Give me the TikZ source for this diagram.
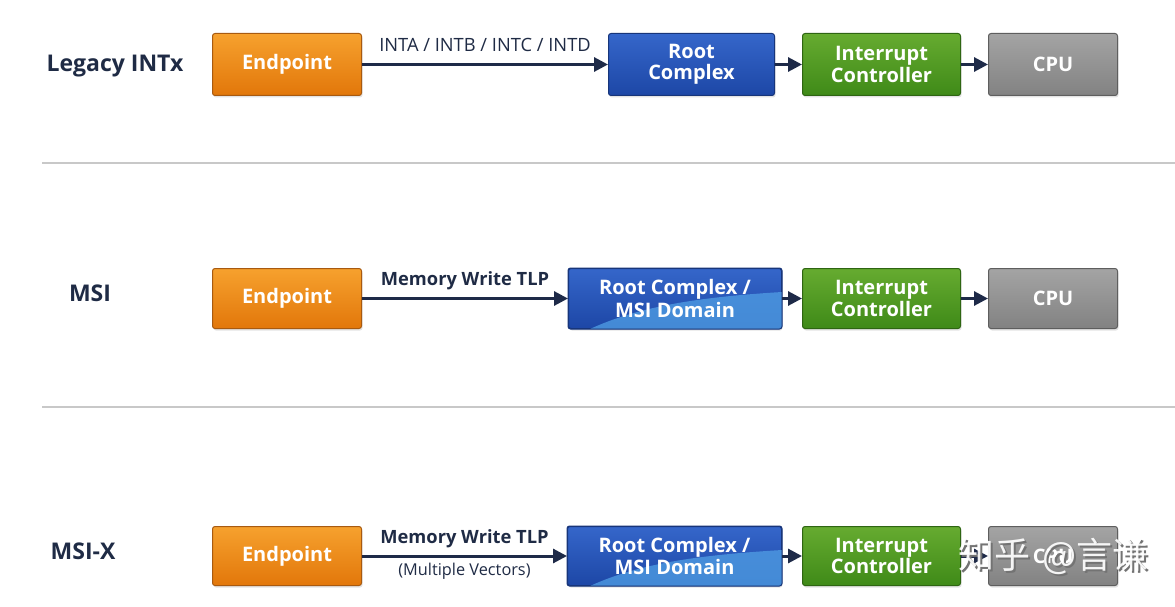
\documentclass[tikz,border=0pt]{standalone}
\usepackage{fontspec}
\setmainfont{Open Sans}
\newfontfamily\cjk{Noto Sans CJK SC}
\usetikzlibrary{arrows.meta,shadows}
\definecolor{navy}{HTML}{1E2A48}
\definecolor{labc}{HTML}{1F2B45}
\definecolor{sepc}{HTML}{C8C8C8}
\definecolor{orT}{HTML}{F6A12E}
\definecolor{orB}{HTML}{E2770A}
\definecolor{orD}{HTML}{A85A10}
\definecolor{blT}{HTML}{3566CA}
\definecolor{blB}{HTML}{1D47A6}
\definecolor{blD}{HTML}{17357A}
\definecolor{blL}{HTML}{4E9BE2}
\definecolor{grT}{HTML}{66AB30}
\definecolor{grB}{HTML}{3F8A18}
\definecolor{grD}{HTML}{2E6512}
\definecolor{gyT}{HTML}{A4A4A4}
\definecolor{gyB}{HTML}{828282}
\definecolor{gyD}{HTML}{5E5E5E}
\begin{document}
\begin{tikzpicture}[x=1pt,y=-1pt,
  box/.style={rectangle, rounded corners=2.5pt, anchor=north west, inner sep=0pt,
    text=white, align=center, line width=1pt,
    font=\bfseries\fontsize{20}{21.5}\selectfont,
    drop shadow={shadow xshift=1pt, shadow yshift=-2pt, opacity=0.22}},
  epbox/.style={box, draw=orD, top color=orT, bottom color=orB},
  rcbox/.style={box, draw=blD, top color=blT, bottom color=blB},
  icbox/.style={box, draw=grD, top color=grT, bottom color=grB},
  cpubox/.style={box, draw=gyD, top color=gyT, bottom color=gyB},
  arr/.style={draw=navy, line width=3pt, -{Triangle[length=14pt,width=14pt]}},
  rowlab/.style={text=labc, font=\bfseries\fontsize{23}{26}\selectfont, anchor=center},
  arrlab/.style={text=labc, anchor=south, inner sep=0pt},
  sep/.style={draw=sepc, line width=1.3pt}
]
\useasboundingbox[fill=white] (0,0) rectangle (1175,607);

% separators
\draw[sep] (42,163) -- (1175,163);
\draw[sep] (42,407) -- (1175,407);

% ---------- Row 1: Legacy INTx ----------
\node[rowlab] (l1) at (115,66) {Legacy INTx};
\node[epbox, minimum width=149pt, minimum height=62pt] (ep1) at (212,33) {Endpoint};
\node[rcbox, minimum width=166pt, minimum height=62pt] (rc1) at (608,33) {Root\\Complex};
\node[icbox, minimum width=158pt, minimum height=62pt] (ic1) at (802,33) {Interrupt\\Controller};
\node[cpubox, minimum width=129pt, minimum height=62pt] (cpu1) at (988,33) {CPU};
\draw[arr] (ep1) -- node[arrlab, above=11pt, font=\fontsize{18.3}{20}\selectfont] {INTA / INTB / INTC / INTD} (rc1);
\draw[arr] (rc1) -- (ic1);
\draw[arr] (ic1) -- (cpu1);

% ---------- Row 2: MSI ----------
\node[rowlab] (l2) at (90,293) {MSI};
\node[epbox, minimum width=149pt, minimum height=60pt] (ep2) at (212,268) {Endpoint};
\node[rcbox, minimum width=213pt, minimum height=60pt] (rc2) at (568,268) {};
\begin{scope}
  \clip[rounded corners=2.5pt] (rc2.north west) rectangle (rc2.south east);
  \fill[blL, opacity=0.8] (590,329) .. controls (640,306) and (700,297) .. (782,292) -- (782,329) -- cycle;
\end{scope}
\draw[blD, line width=1pt, rounded corners=2.5pt] (rc2.north west) rectangle (rc2.south east);
\node[text=white, align=center, font=\bfseries\fontsize{20}{22.5}\selectfont] (rc2t) at (rc2.center) {Root Complex /\\MSI Domain};
\node[icbox, minimum width=158pt, minimum height=60pt] (ic2) at (802,268) {Interrupt\\Controller};
\node[cpubox, minimum width=129pt, minimum height=60pt] (cpu2) at (988,268) {CPU};
\draw[arr] (ep2) -- node[arrlab, above=7pt, font=\bfseries\fontsize{18.3}{20}\selectfont] {Memory Write TLP} (rc2);
\draw[arr] (rc2) -- (ic2);
\draw[arr] (ic2) -- (cpu2);

% ---------- Row 3: MSI-X ----------
\node[rowlab] (l3) at (83,551) {MSI-X};
\node[epbox, minimum width=149pt, minimum height=59pt] (ep3) at (212,526) {Endpoint};
\node[rcbox, minimum width=214pt, minimum height=59pt] (rc3) at (567,526) {};
\begin{scope}
  \clip[rounded corners=2.5pt] (rc3.north west) rectangle (rc3.south east);
  \fill[blL, opacity=0.8] (590,586) .. controls (640,563) and (700,555) .. (782,550) -- (782,586) -- cycle;
\end{scope}
\draw[blD, line width=1pt, rounded corners=2.5pt] (rc3.north west) rectangle (rc3.south east);
\node[text=white, align=center, font=\bfseries\fontsize{20}{22.5}\selectfont] (rc3t) at (rc3.center) {Root Complex /\\MSI Domain};
\node[icbox, minimum width=158pt, minimum height=59pt] (ic3) at (802,526) {Interrupt\\Controller};
\node[cpubox, minimum width=129pt, minimum height=59pt] (cpu3) at (988,526) {CPU};
\draw[arr] (ep3) -- node[arrlab, above=7pt, font=\bfseries\fontsize{18.3}{20}\selectfont] {Memory Write TLP}
  node[text=labc, anchor=north, below=2pt, font=\fontsize{16.3}{18}\selectfont] {(Multiple Vectors)} (rc3);
\draw[arr] (rc3) -- (ic3);
\draw[arr] (ic3) -- (cpu3);

% watermark
\node[text=black!55, font=\cjk\fontsize{36}{40}\selectfont, anchor=west] (wms) at (956.5,558) {知乎\hspace{12pt}@言谦};
\node[text=white, opacity=0.92, font=\cjk\fontsize{36}{40}\selectfont, anchor=west] (wm) at (955,556) {知乎\hspace{12pt}@言谦};
\end{tikzpicture}
\end{document}
